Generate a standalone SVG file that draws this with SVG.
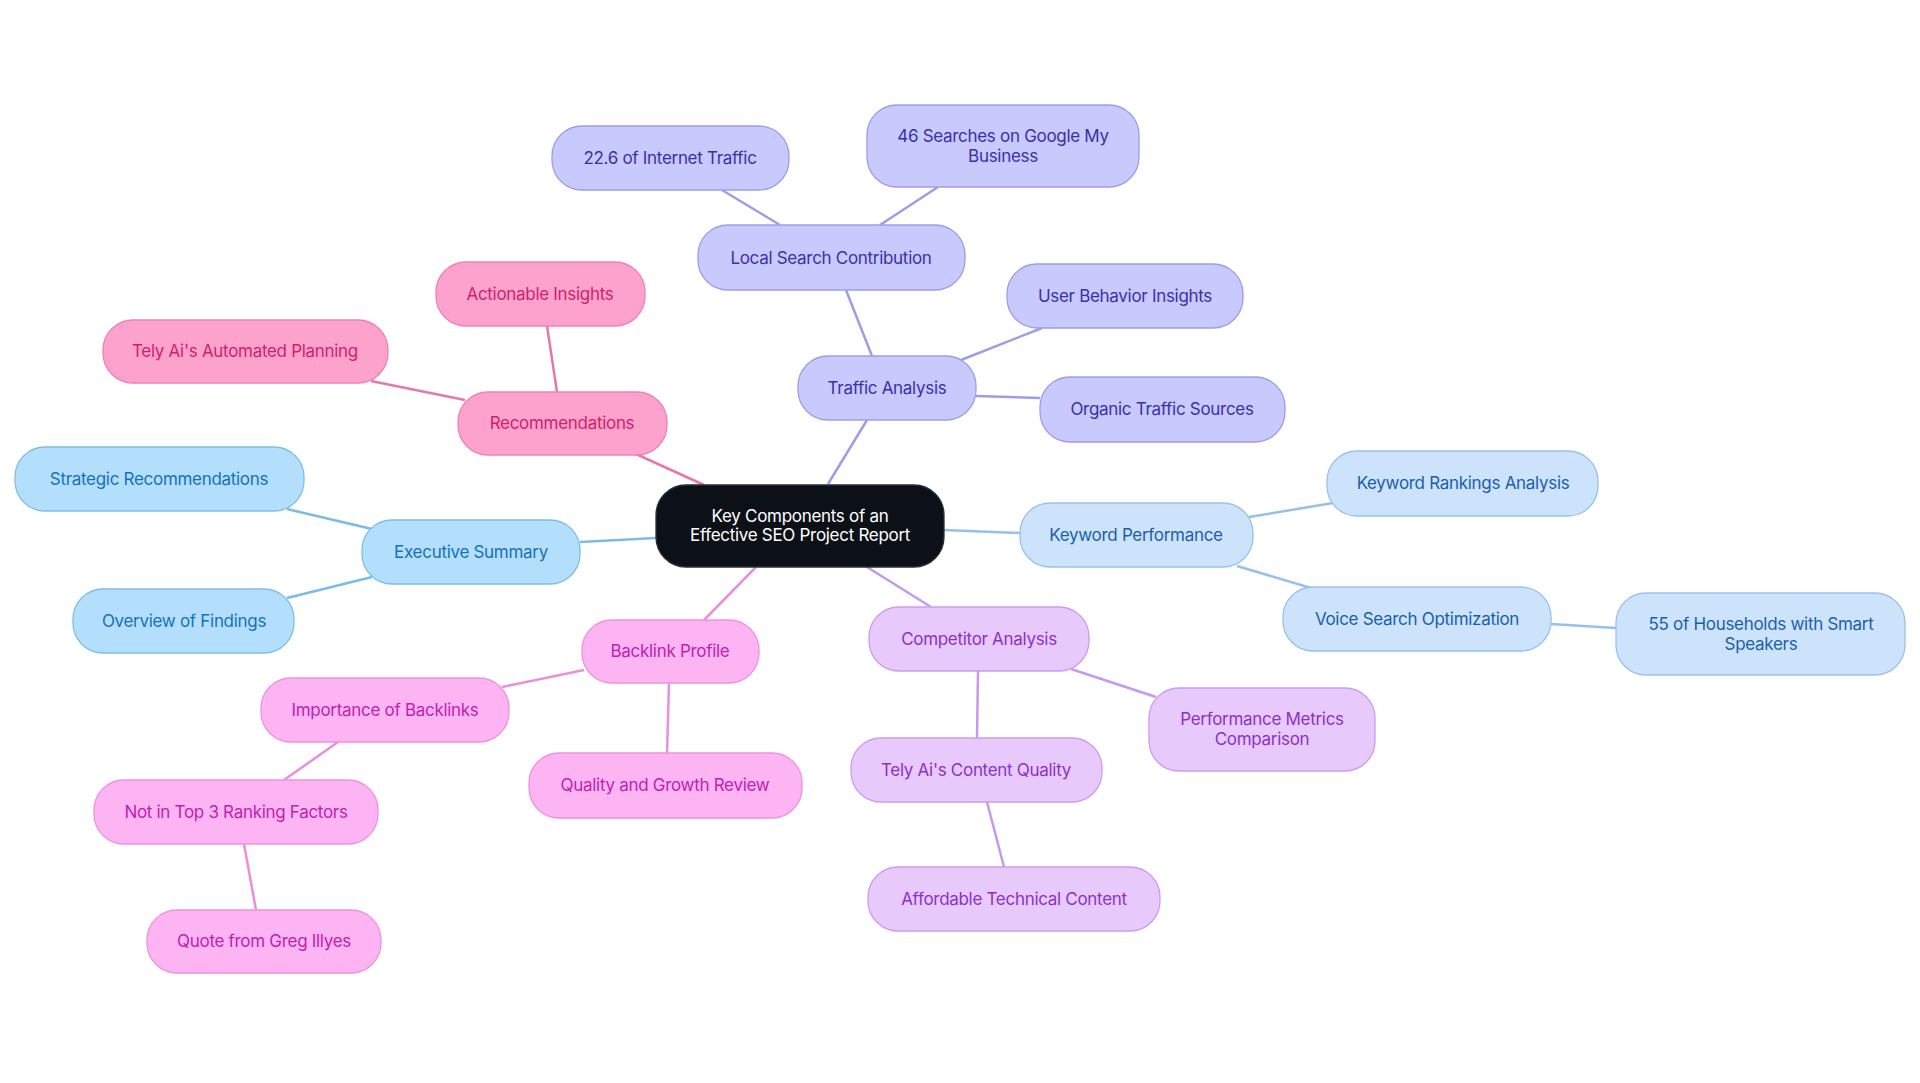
<svg xmlns="http://www.w3.org/2000/svg" width="1920" height="1083" viewBox="0 0 1920 1083">
<style>
text{font-family:Inter,"Open Sans","Liberation Sans",sans-serif;font-size:17px;text-anchor:middle;dominant-baseline:central;letter-spacing:-0.3px}
rect{stroke-width:1.3}
.c rect{fill:#0c1117;stroke:#2a2f36}
.c text{fill:#ffffff}
.t rect{fill:#c8c9fc;stroke:#9c9ee8}
.t text{fill:#3b30a8}
.k rect{fill:#cce3fb;stroke:#98c2ec}
.k text{fill:#1b5faa}
.e rect{fill:#b3dffc;stroke:#80bee8}
.e text{fill:#1572b8}
.r rect{fill:#fda2cc;stroke:#ee82b2}
.r text{fill:#d01e6e}
.b rect{fill:#fdb4f3;stroke:#ee92e0}
.b text{fill:#c021b2}
.p rect{fill:#e8c9fc;stroke:#cc9cee}
.p text{fill:#8a32c8}
#edges line{stroke-width:2.5;fill:none}
.lt{stroke:#9c9ee6}.lk{stroke:#96c0ea}.le{stroke:#7ebbe2}.lr{stroke:#e67aa6}.lb{stroke:#e890dc}.lp{stroke:#c49aec}
</style>
<rect width="1920" height="1083" fill="#ffffff"/>
<g id="edges">
<line class="lt" x1="828" y1="484" x2="867" y2="420"/>
<line class="lt" x1="872" y1="356" x2="846" y2="290"/>
<line class="lt" x1="780" y1="225" x2="722" y2="190"/>
<line class="lt" x1="880" y1="225" x2="938" y2="187"/>
<line class="lt" x1="961" y1="360" x2="1042" y2="328"/>
<line class="lt" x1="976" y1="396" x2="1040" y2="398"/>
<line class="lk" x1="944" y1="530" x2="1020" y2="533"/>
<line class="lk" x1="1249" y1="517" x2="1333" y2="503"/>
<line class="lk" x1="1237" y1="566" x2="1311" y2="588"/>
<line class="lk" x1="1551" y1="624" x2="1616" y2="628"/>
<line class="le" x1="656" y1="538" x2="580" y2="542"/>
<line class="le" x1="372" y1="529" x2="287" y2="509"/>
<line class="le" x1="372" y1="577" x2="287" y2="598"/>
<line class="lr" x1="704" y1="485" x2="636" y2="454"/>
<line class="lr" x1="557" y1="392" x2="547" y2="326"/>
<line class="lr" x1="465" y1="400" x2="371" y2="381"/>
<line class="lb" x1="756" y1="567" x2="704" y2="620"/>
<line class="lb" x1="584" y1="670" x2="502" y2="687"/>
<line class="lb" x1="669" y1="683" x2="667" y2="753"/>
<line class="lb" x1="338" y1="742" x2="284" y2="780"/>
<line class="lb" x1="244" y1="844" x2="256" y2="910"/>
<line class="lp" x1="867" y1="567" x2="931" y2="607"/>
<line class="lp" x1="1071" y1="669" x2="1156" y2="697"/>
<line class="lp" x1="978" y1="671" x2="977" y2="738"/>
<line class="lp" x1="987" y1="802" x2="1004" y2="867"/>
</g>
<g id="center" class="c"><rect x="656" y="485" width="288" height="82" rx="30"/><text x="800" y="516">Key Components of an</text><text x="800" y="535">Effective SEO Project Report</text></g>
<g id="traffic" class="t"><rect x="798" y="356" width="178" height="64" rx="30"/><text x="887" y="388">Traffic Analysis</text></g>
<g id="local" class="t"><rect x="698" y="225" width="267" height="65" rx="30"/><text x="831" y="258">Local Search Contribution</text></g>
<g id="internet" class="t"><rect x="552" y="126" width="237" height="64" rx="30"/><text x="670" y="158">22.6 of Internet Traffic</text></g>
<g id="gmb" class="t"><rect x="867" y="105" width="272" height="82" rx="30"/><text x="1003" y="136">46 Searches on Google My</text><text x="1003" y="156">Business</text></g>
<g id="ubi" class="t"><rect x="1007" y="264" width="236" height="64" rx="30"/><text x="1125" y="296">User Behavior Insights</text></g>
<g id="organic" class="t"><rect x="1040" y="377" width="245" height="65" rx="30"/><text x="1162" y="409">Organic Traffic Sources</text></g>
<g id="kp" class="k"><rect x="1020" y="503" width="233" height="64" rx="30"/><text x="1136" y="535">Keyword Performance</text></g>
<g id="kra" class="k"><rect x="1327" y="451" width="271" height="65" rx="30"/><text x="1463" y="483">Keyword Rankings Analysis</text></g>
<g id="vso" class="k"><rect x="1283" y="587" width="268" height="64" rx="30"/><text x="1417" y="619">Voice Search Optimization</text></g>
<g id="speakers" class="k"><rect x="1616" y="593" width="289" height="82" rx="30"/><text x="1761" y="624">55 of Households with Smart</text><text x="1761" y="644">Speakers</text></g>
<g id="exec" class="e"><rect x="362" y="520" width="218" height="64" rx="30"/><text x="471" y="552">Executive Summary</text></g>
<g id="strategic" class="e"><rect x="15" y="447" width="289" height="64" rx="30"/><text x="159" y="479">Strategic Recommendations</text></g>
<g id="overview" class="e"><rect x="73" y="589" width="221" height="64" rx="30"/><text x="184" y="621">Overview of Findings</text></g>
<g id="rec" class="r"><rect x="458" y="392" width="209" height="63" rx="30"/><text x="562" y="423">Recommendations</text></g>
<g id="actionable" class="r"><rect x="436" y="262" width="209" height="64" rx="30"/><text x="540" y="294">Actionable Insights</text></g>
<g id="planning" class="r"><rect x="103" y="320" width="285" height="63" rx="30"/><text x="245" y="351">Tely Ai's Automated Planning</text></g>
<g id="backlink" class="b"><rect x="582" y="620" width="177" height="63" rx="30"/><text x="670" y="651">Backlink Profile</text></g>
<g id="importance" class="b"><rect x="261" y="678" width="248" height="64" rx="30"/><text x="385" y="710">Importance of Backlinks</text></g>
<g id="quality" class="b"><rect x="529" y="753" width="273" height="65" rx="30"/><text x="665" y="785">Quality and Growth Review</text></g>
<g id="nottop3" class="b"><rect x="94" y="780" width="284" height="64" rx="30"/><text x="236" y="812">Not in Top 3 Ranking Factors</text></g>
<g id="quote" class="b"><rect x="147" y="910" width="234" height="63" rx="30"/><text x="264" y="941">Quote from Greg Illyes</text></g>
<g id="competitor" class="p"><rect x="869" y="607" width="220" height="64" rx="30"/><text x="979" y="639">Competitor Analysis</text></g>
<g id="metrics" class="p"><rect x="1149" y="688" width="226" height="83" rx="30"/><text x="1262" y="719">Performance Metrics</text><text x="1262" y="739">Comparison</text></g>
<g id="content" class="p"><rect x="851" y="738" width="251" height="64" rx="30"/><text x="976" y="770">Tely Ai's Content Quality</text></g>
<g id="affordable" class="p"><rect x="868" y="867" width="292" height="64" rx="30"/><text x="1014" y="899">Affordable Technical Content</text></g>
</svg>
